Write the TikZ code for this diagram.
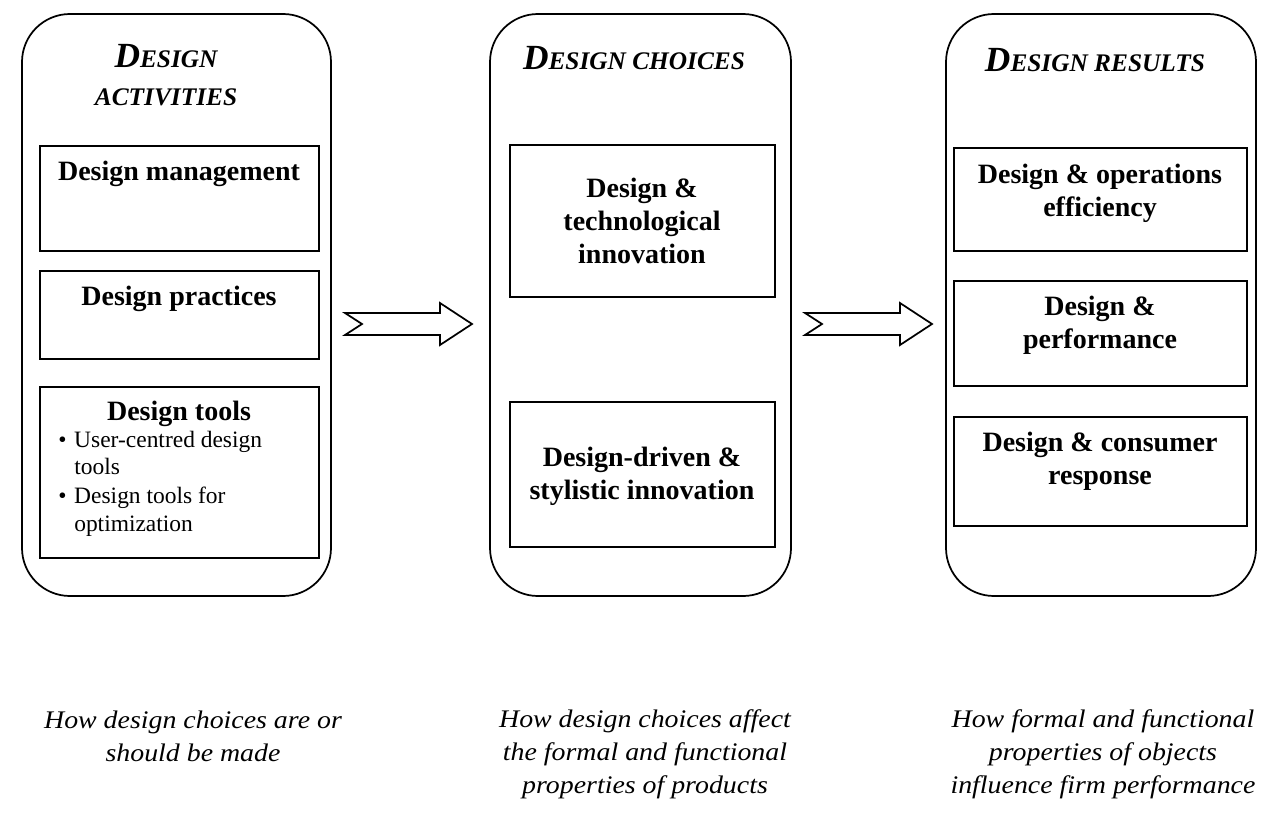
\documentclass[tikz,border=0pt]{standalone}
\usepackage{fontspec}
\setmainfont{Liberation Serif}
\newfontfamily\capfont[FakeStretch=1.1]{Liberation Serif}
\usetikzlibrary{fit}
\newcommand\tsc[2]{{\fontsize{26.5}{28.5}\selectfont #1}{\fontsize{19}{28.5}\selectfont #2}}
\tikzset{
  bigbox/.style={draw, line width=1.3pt, rounded corners=36pt, inner sep=0pt},
  smallbox/.style={draw, line width=1.3pt, inner sep=0pt},
  boxtext/.style={font=\fontsize{21}{24.75}\selectfont\bfseries, align=center, inner sep=0pt},
  titletext/.style={font=\bfseries\itshape\fontsize{19}{28.5}\selectfont, align=center, inner sep=0pt},
  bullettext/.style={font=\fontsize{17.6}{20.5}\selectfont, align=left, inner sep=0pt},
  captext/.style={font=\capfont\itshape\fontsize{19}{24.75}\selectfont, align=center, inner sep=0pt},
  blockarrow/.style={draw, line width=1.3pt, fill=white, line join=miter}
}
\begin{document}
\begin{tikzpicture}[x=0.75pt, y=-0.75pt]
\useasboundingbox (0,0) rectangle (1276,813);

% big rounded boxes
\node[bigbox, fit={(22,14) (331,596)}] (act) {};
\node[bigbox, fit={(490,14) (791,596)}] (cho) {};
\node[bigbox, fit={(946,14) (1256,596)}] (res) {};

% titles (anchor base = baseline of the last line)
\node[titletext, anchor=base] (actT) at (166,106) {\tsc{D}{ESIGN}\\\tsc{}{ACTIVITIES}};
\node[titletext, anchor=base] (choT) at (634,70) {\tsc{D}{ESIGN CHOICES}};
\node[titletext, anchor=base] (resT) at (1095,72) {\tsc{D}{ESIGN RESULTS}};

% left inner boxes
\node[smallbox, fit={(40,146) (319,251)}] (a1) {};
\node[smallbox, fit={(40,271) (319,359)}] (a2) {};
\node[smallbox, fit={(40,387) (319,558)}] (a3) {};
\node[boxtext, anchor=base] (a1t) at (179,180) {Design management};
\node[boxtext, anchor=base] (a2t) at (179,305) {Design practices};
\node[boxtext, anchor=base] (a3t) at (179,420) {Design tools};
\node[bullettext, anchor=base west] (a3b) at (58,531)
  {\makebox[12pt][l]{\textbullet}User-centred design\\
   \hspace*{12pt}tools\\[1.5pt]
   \makebox[12pt][l]{\textbullet}Design tools for\\
   \hspace*{12pt}optimization};

% middle inner boxes
\node[smallbox, fit={(510,145) (775,297)}] (c1) {};
\node[smallbox, fit={(510,402) (775,547)}] (c2) {};
\node[boxtext, anchor=base] (c1t) at (642,263) {Design \&\\technological\\innovation};
\node[boxtext, anchor=base] (c2t) at (642,499) {Design-driven \&\\stylistic innovation};

% right inner boxes
\node[smallbox, fit={(954,148) (1247,251)}] (r1) {};
\node[smallbox, fit={(954,281) (1247,386)}] (r2) {};
\node[smallbox, fit={(954,417) (1247,526)}] (r3) {};
\node[boxtext, anchor=base] (r1t) at (1100,216) {Design \& operations\\efficiency};
\node[boxtext, anchor=base] (r2t) at (1100,348) {Design \&\\performance};
\node[boxtext, anchor=base] (r3t) at (1100,484) {Design \& consumer\\response};

% block arrows
\draw[blockarrow] (345,313) -- (440,313) -- (440,303) -- (472,324) -- (440,345) -- (440,335) -- (345,335) -- (362,324) -- cycle;
\draw[blockarrow] (805,313) -- (900,313) -- (900,303) -- (932,324) -- (900,345) -- (900,335) -- (805,335) -- (822,324) -- cycle;

% captions
\node[captext, anchor=base] (cap1) at (193,761) {How design choices are or\\should be made};
\node[captext, anchor=base] (cap2) at (645,793) {How design choices affect\\the formal and functional\\properties of products};
\node[captext, anchor=base] (cap3) at (1103,793) {How formal and functional\\properties of objects\\influence firm performance};
\end{tikzpicture}
\end{document}
